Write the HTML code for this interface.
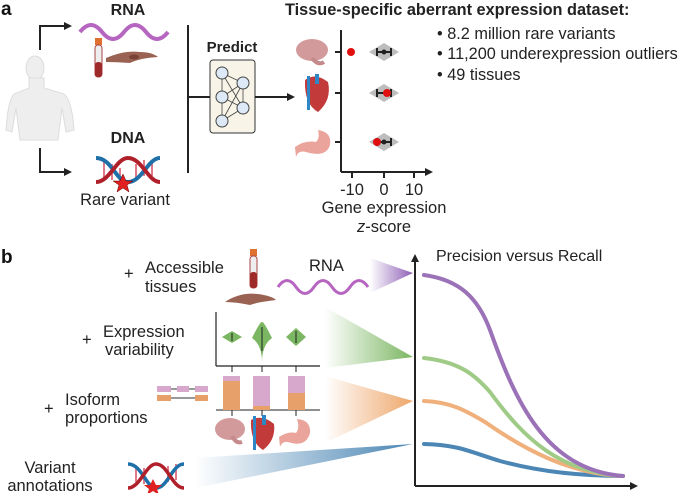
<!DOCTYPE html>
<html><head><meta charset="utf-8"><style>
body{margin:0;background:#fff}
svg{display:block;font-family:"Liberation Sans",sans-serif}
</style></head><body>
<svg width="685" height="493" viewBox="0 0 685 493" xmlns="http://www.w3.org/2000/svg">
<defs>
<marker id="ah" markerWidth="8" markerHeight="8" refX="6" refY="4" orient="auto" markerUnits="userSpaceOnUse"><path d="M0,0 L8,4 L0,8 Z" fill="#222"/></marker>
<linearGradient id="gp" x1="0" x2="1"><stop offset="0" stop-color="#8e5fb5" stop-opacity="0"/><stop offset="1" stop-color="#8e5fb5"/></linearGradient>
<linearGradient id="gg" x1="0" x2="1"><stop offset="0" stop-color="#7bb662" stop-opacity="0"/><stop offset="1" stop-color="#7bb662"/></linearGradient>
<linearGradient id="go" x1="0" x2="1"><stop offset="0" stop-color="#eea66a" stop-opacity="0"/><stop offset="1" stop-color="#eea66a"/></linearGradient>
<linearGradient id="gb" x1="0" x2="1"><stop offset="0" stop-color="#4b86b4" stop-opacity="0"/><stop offset="1" stop-color="#4b86b4"/></linearGradient>
</defs>
<!-- panel a -->
<text x="1" y="15" font-size="19" font-weight="bold" fill="#111">a</text>
<g fill="#eeeeee" stroke="#ddd">
<ellipse cx="35" cy="68" rx="9" ry="12"/>
<path d="M29,78 L29,88 L14,94 Q8,100 6,130 L12,132 L16,108 L20,140 L58,140 L62,108 L66,132 L74,130 Q72,100 64,94 L44,88 L44,78 Z"/>
</g>
<path d="M40,50 V26 H70" fill="none" stroke="#222" stroke-width="2" marker-end="url(#ah)"/>
<path d="M40,148 V172 H70" fill="none" stroke="#222" stroke-width="2" marker-end="url(#ah)"/>
<text x="128" y="15" font-size="16" font-weight="bold" text-anchor="middle" fill="#222">RNA</text>
<path d="M80,32 Q91,18 102,32 T124,32 T146,32 T168,32" fill="none" stroke="#b665c0" stroke-width="4"/>
<rect x="95" y="38" width="7" height="7" fill="#e07030"/>
<rect x="95" y="45" width="7" height="32" rx="3" fill="#eee" stroke="#aa4444"/>
<rect x="95" y="62" width="7" height="15" rx="3" fill="#9e2a2a"/>
<path d="M106,58 Q125,50 140,52 Q152,52 158,57 Q140,58 130,63 Q118,62 106,62 Z" fill="#9a6252"/>
<ellipse cx="134" cy="57" rx="5" ry="2.5" fill="#7a4234"/>
<text x="128" y="143" font-size="16" font-weight="bold" text-anchor="middle" fill="#222">DNA</text>
<g stroke-width="2"><path d="M104,162V178M112,164V180M120,168V182M136,164V178M144,160V176M152,160V176" stroke="#e07a8a"/></g>
<path d="M96,158 C112,158 116,182 128,182 C142,182 148,158 160,158" fill="none" stroke="#1f6fa8" stroke-width="4"/>
<path d="M96,182 C110,182 116,158 128,158 C142,158 148,182 160,182" fill="none" stroke="#b0202a" stroke-width="4"/>
<polygon points="123,174 126,181 133,181 127,185 129,192 123,188 117,192 119,185 113,181 120,181" fill="#e02020" stroke="#600" stroke-width="0.5"/>
<text x="125" y="205" font-size="16.5" text-anchor="middle" fill="#222">Rare variant</text>
<line x1="188" y1="25" x2="188" y2="173" stroke="#222" stroke-width="2"/>
<line x1="188" y1="97" x2="210" y2="97" stroke="#222" stroke-width="2"/>
<text x="232" y="52" font-size="15" font-weight="bold" text-anchor="middle" fill="#222">Predict</text>
<rect x="210" y="60" width="45" height="73" rx="3" fill="#f8f5e8" stroke="#333"/>
<g stroke="#444" stroke-width="0.8"><path d="M222,73 L243,83 M222,73 L222,97 M243,83 L222,97 M243,83 L243,108 M222,97 L243,108 M222,121 L243,108 M222,121 L222,97 M222,73 L243,108 M243,83 L222,121"/></g>
<g fill="#dde9f7" stroke="#444"><circle cx="222" cy="73" r="6"/><circle cx="243" cy="83" r="6"/><circle cx="222" cy="97" r="6"/><circle cx="243" cy="108" r="6"/><circle cx="222" cy="121" r="6"/></g>
<line x1="255" y1="97" x2="293" y2="97" stroke="#222" stroke-width="2" marker-end="url(#ah)"/>
<ellipse cx="312" cy="50" rx="16" ry="11" fill="#d39a9c"/><path d="M312,58 Q318,66 324,62" stroke="#c58a8c" stroke-width="4" fill="none"/>
<path d="M305,80 Q315,72 328,82 Q332,100 318,112 Q304,104 305,80 Z" fill="#c23a3a"/><rect x="307" y="76" width="3" height="34" fill="#2d86c5"/><rect x="315" y="74" width="4" height="10" fill="#2d86c5"/>
<path d="M318,130 Q332,132 330,145 Q326,158 306,152 Q298,150 296,157 L295,147 Q305,140 316,142 Q320,138 318,130 Z" fill="#eaa49c"/>
<line x1="341" y1="30" x2="341" y2="172" stroke="#222" stroke-width="2"/>
<line x1="341" y1="172" x2="431" y2="172" stroke="#222" stroke-width="2" marker-end="url(#ah)"/>
<g stroke="#222" stroke-width="2"><path d="M335,52H341M335,93H341M335,142H341M352,172V178M384,172V178M414,172V178"/></g>
<g fill="#bdbdbd"><path d="M369,52 L384,43 L399,52 L384,61Z"/><path d="M369,93 L384,84 L399,93 L384,102Z"/><path d="M369,142 L384,133 L399,142 L384,151Z"/></g>
<g stroke="#222" stroke-width="2"><path d="M377,52H391M377,93H391M377,142H391M377,48V56M391,48V56M377,89V97M391,89V97M377,138V146M391,138V146"/></g>
<circle cx="384" cy="52" r="2.5" fill="#222"/><circle cx="384" cy="142" r="2.5" fill="#222"/>
<circle cx="351" cy="52" r="4" fill="#e01010"/><circle cx="387" cy="93" r="4" fill="#e01010"/><circle cx="377" cy="142" r="4" fill="#e01010"/>
<g font-size="16.5" fill="#222" text-anchor="middle">
<text x="352" y="195">-10</text><text x="384" y="195">0</text><text x="414" y="195">10</text>
<text x="384" y="213">Gene expression</text>
<text x="384" y="232"><tspan font-style="italic">z</tspan>-score</text>
</g>
<text x="285" y="15" font-size="16.3" font-weight="bold" fill="#222">Tissue-specific aberrant expression dataset:</text>
<g font-size="16.3" fill="#222"><text x="437" y="39">• 8.2 million rare variants</text><text x="437" y="59">• 11,200 underexpression outliers</text><text x="437" y="80">• 49 tissues</text></g>
<!-- panel b -->
<text x="1" y="263" font-size="19" font-weight="bold" fill="#111">b</text>
<polygon points="370,258 413,273 370,293" fill="url(#gp)"/>
<polygon points="325,307 413,357 325,368" fill="url(#gg)"/>
<polygon points="325,376 413,401 325,443" fill="url(#go)"/>
<polygon points="195,488 413,444 195,458" fill="url(#gb)"/>
<g font-size="16.5" fill="#222">
<text x="124" y="279">+</text><text x="145" y="273">Accessible</text><text x="145" y="292">tissues</text>
<text x="309" y="271">RNA</text>
<text x="82" y="345">+</text><text x="103" y="337">Expression</text><text x="105" y="355">variability</text>
<text x="44" y="414">+</text><text x="65" y="405">Isoform</text><text x="65" y="423">proportions</text>
<text x="50" y="473" text-anchor="middle">Variant</text><text x="50" y="491" text-anchor="middle">annotations</text>
</g>
<path d="M278,287 Q287,274 296,287 T314,287 T332,287 T350,287 T368,287" fill="none" stroke="#b665c0" stroke-width="3"/>
<rect x="250" y="249" width="7" height="7" fill="#e07030"/>
<rect x="250" y="256" width="7" height="32" rx="3" fill="#eee" stroke="#aa4444"/>
<rect x="250" y="272" width="7" height="16" rx="3" fill="#9e2a2a"/>
<path d="M225,302 Q240,292 258,294 Q272,296 276,300 Q258,302 250,305 Q236,302 225,302 Z" fill="#9a6252"/>
<line x1="216" y1="312" x2="216" y2="366" stroke="#222" stroke-width="1.2"/>
<line x1="216" y1="366" x2="320" y2="366" stroke="#222" stroke-width="1.2"/>
<g fill="#7bb662"><path d="M222,337 L232,331 L242,337 L232,343Z"/><path d="M252,338 Q262,318 262,323 Q262,318 272,338 Q262,345 262,362 Q262,345 252,338Z"/><path d="M286,337 L296,328 L306,337 L296,346Z"/></g>
<g stroke="#222" stroke-width="1"><path d="M232,333V341M262,327V351M296,331V343"/></g>
<g stroke="#222" stroke-width="1"><path d="M232,366V372M262,366V372M296,366V372M216,410H320"/></g>
<rect x="223" y="376" width="17" height="5" fill="#d8a8cc"/><rect x="223" y="381" width="17" height="29" fill="#e8a06a"/>
<rect x="253" y="376" width="17" height="30" fill="#d8a8cc"/><rect x="253" y="406" width="17" height="4" fill="#e8a06a"/>
<rect x="288" y="376" width="17" height="17" fill="#d8a8cc"/><rect x="288" y="393" width="17" height="17" fill="#e8a06a"/>
<g stroke="#222" stroke-width="1"><path d="M232,410V416M262,410V416M296,410V416"/></g>
<rect x="157" y="386" width="14" height="6" fill="#d8a8cc"/><rect x="177" y="386" width="12" height="6" fill="#d8a8cc"/><rect x="195" y="386" width="13" height="6" fill="#d8a8cc"/>
<path d="M171,389H177M189,389H195M171,398H195" stroke="#333"/>
<rect x="157" y="395" width="14" height="6" fill="#e8a06a"/><rect x="195" y="395" width="13" height="6" fill="#e8a06a"/>
<ellipse cx="230" cy="429" rx="15" ry="11" fill="#d39a9c"/><path d="M232,436 Q236,444 242,442" stroke="#c58a8c" stroke-width="4" fill="none"/>
<path d="M251,420 Q262,414 274,424 Q276,440 263,450 Q250,442 251,420Z" fill="#c23a3a"/><rect x="253" y="416" width="3" height="34" fill="#2d86c5"/><rect x="262" y="415" width="4" height="10" fill="#2d86c5"/>
<path d="M297,419 Q311,420 310,433 Q306,448 288,442 Q282,441 280,447 L279,437 Q288,431 296,433 Q300,428 297,419Z" fill="#eaa49c"/>
<g stroke-width="2"><path d="M136,466V482M144,468V484M168,466V482M176,464V480" stroke="#e07a8a"/></g>
<path d="M128,464 C142,464 146,488 156,488 C168,488 172,464 184,464" fill="none" stroke="#1f6fa8" stroke-width="3.5"/>
<path d="M128,488 C140,488 146,464 156,464 C168,464 172,488 184,488" fill="none" stroke="#b0202a" stroke-width="3.5"/>
<polygon points="153,479 156,485 162,485 157,489 159,495 153,491 147,495 149,489 144,485 150,485" fill="#e02020"/>
<line x1="415" y1="486" x2="415" y2="256" stroke="#222" stroke-width="2" marker-end="url(#ah)"/>
<line x1="415" y1="486" x2="636" y2="486" stroke="#222" stroke-width="2" marker-end="url(#ah)"/>
<text x="436" y="261" font-size="16" fill="#222">Precision versus Recall</text>
<g fill="none" stroke-width="4" stroke-linecap="round">
<path d="M424,444 C460,445 470,452 500,461 C540,472 580,476 623,476" stroke="#4b86b4"/>
<path d="M424,401 C450,402 465,410 485,422 C525,450 570,474 623,476" stroke="#f0b07c"/>
<path d="M424,358 C460,362 475,375 490,392 C525,440 560,472 623,476" stroke="#9fcb86"/>
<path d="M424,275 C460,280 478,298 490,330 C515,400 545,470 623,476" stroke="#9b72b8"/>
</g>
</svg>
</body></html>
